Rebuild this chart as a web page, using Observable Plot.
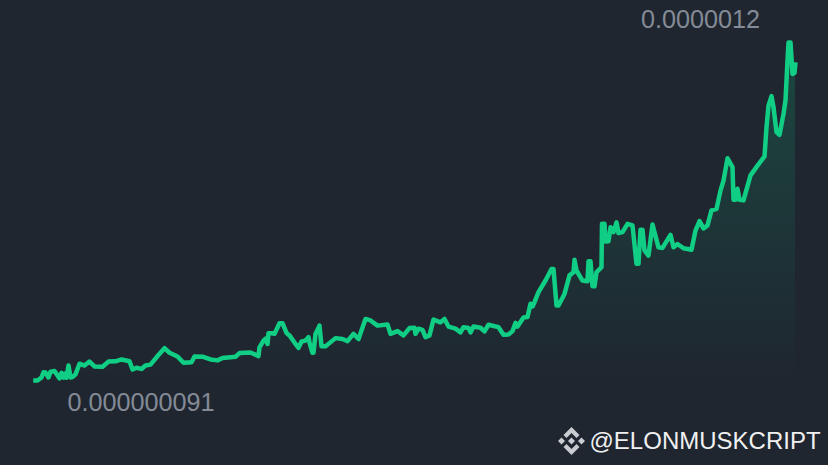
<!DOCTYPE html>
<html><head><meta charset="utf-8">
<script src="https://cdn.jsdelivr.net/npm/d3@7"></script>
<script src="https://cdn.jsdelivr.net/npm/@observablehq/plot@0.6"></script>
<style>html,body{margin:0;padding:0;background:#1f2630;overflow:hidden}svg{display:block}</style>
</head><body><div id="chart"></div>
<script>
// time position along the window (arbitrary units)
const times = [0.7,5,9,11,13,16,18,22,27,29,31,32.5,34,36,38,40,43,47,52,57,62,70,76,83,89,97,100,104,109,113,118,124,132,137,145,151,159,162,170,178,185,190,203,207,218,226,227,231,233,235,236,240,242,247,250,254,257,263,266,269,273,276,277,280,281,283,287,289,293,303,310,315,321,326,333,338,345,355,358,365,371,377,382,383,386,390,393,397,401,408,412,416,423,428,431,436,438,441,448,452,456,466,471,476,480,483,485,491,495,498,500,502,506,513,519,521,524,526,532,537,541,542,544,550,555,556,558,560,562,564,569,569.5,572,573,576,578,581,584,586,590,595,600,604,606,608,610,612,616,620,626,630,638,641,645,651,659,663,667,671,675,679,684,688,691,695,700,701,703,705,707,711,718,725,732,734,736,739,741,744,747,751,753,755,756,758,760,762,763];
// price in billionths (1e-9)
const prices = [91,91,101,118,117,101,120,122,98,116,100,114,100,140,101,102,111,146,140,153,137,136,153,154,160,154,127,133,129,140,143,167,197,182,170,149,151,170,169,160,157,165,169,181,183,171,200,222,228,211,246,246,244,279,279,247,239,211,198,219,222,233,215,182,182,244,271,203,203,230,227,220,244,227,293,288,271,275,244,253,239,263,264,244,261,257,233,239,291,282,293,268,261,249,266,263,249,268,264,252,274,266,241,242,253,280,268,298,299,343,334,348,381,419,457,457,337,337,375,436,446,487,452,419,417,482,482,400,400,446,463,605,605,547,548,594,578,610,575,578,605,600,474,474,586,586,518,501,603,528,526,569,528,539,525,520,583,614,590,600,649,654,714,747,820,791,684,684,720,684,682,764,796,826,922,993,1024,988,906,897,966,1010,1141,1200,1200,1097,1100,1135];
const lowLabel = "0.000000091";
const highLabel = "0.0000012";
const handle = "@ELONMUSKCRIPT";
const data = times.map((t, i) => ({t, p: prices[i]}));

const defs = () => {
  const s = d3.create("svg:g");
  const g = s.append("defs").append("linearGradient").attr("id","fade")
    .attr("gradientUnits","userSpaceOnUse").attr("x1",0).attr("x2",0).attr("y1",42).attr("y2",380);
  g.append("stop").attr("offset",0).attr("stop-color","#0ecb81").attr("stop-opacity",0.2);
  g.append("stop").attr("offset",1).attr("stop-color","#0ecb81").attr("stop-opacity",0);
  return s.node();
};
const logo = () => {
  const s = d3.create("svg:g").attr("transform","translate(571.5,441)").attr("fill","#c9ccd0");
  s.append("path").attr("d","M0,-14L8,-6L5,-3L0,-8L-5,-3L-8,-6Z");
  s.append("path").attr("d","M0,14L8,6L5,3L0,8L-5,3L-8,6Z");
  s.append("path").attr("d","M0,-3.5L3.5,0L0,3.5L-3.5,0Z");
  s.append("path").attr("d","M-10,-3.5L-6.5,0L-10,3.5L-13.5,0Z");
  s.append("path").attr("d","M10,-3.5L13.5,0L10,3.5L6.5,0Z");
  return s.node();
};
const font = "'Liberation Sans',Arial,sans-serif";
const chart = Plot.plot({
  width: 828, height: 465,
  margin: 0, marginLeft: 32, marginRight: 33, marginTop: 42, marginBottom: 85,
  style: {background: "#1f2630", overflow: "visible"},
  x: {axis: null, domain: [0, 763]},
  y: {axis: null, domain: [91, 1200]},
  marks: [
    defs,
    Plot.areaY(data, {x: "t", y1: 91, y2: "p", fill: "url(#fade)", curve: "linear"}),
    Plot.line(data, {x: "t", y: "p", stroke: "#10cf85", strokeWidth: 4.5, strokeLinejoin: "round", strokeLinecap: "butt", curve: "linear"}),
    Plot.text([highLabel], {text: d => d, frameAnchor: "top-left", dx: 608.5, dy: -32, textAnchor: "start", fontSize: 25.2, fill: "#848b96", fontFamily: font}),
    Plot.text([lowLabel], {text: d => d, frameAnchor: "bottom-left", dx: 35, dy: 30, textAnchor: "start", fontSize: 25.2, fill: "#848b96", fontFamily: font}),
    Plot.text([handle], {text: d => d, frameAnchor: "bottom-left", dx: 557, dy: 68, textAnchor: "start", fontSize: 24, fill: "#f0f0f0", fontFamily: font}),
    logo
  ]
});
document.getElementById("chart").append(chart);
</script></body></html>
